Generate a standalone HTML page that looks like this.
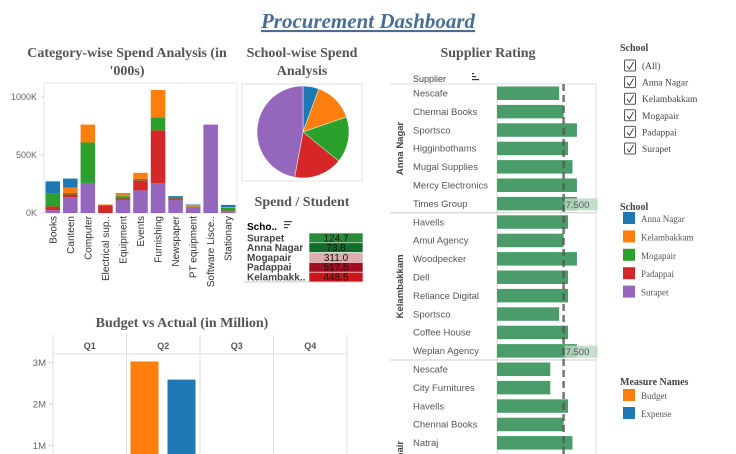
<!DOCTYPE html>
<html><head><meta charset="utf-8">
<style>
html,body{margin:0;padding:0;background:#fff;width:736px;height:454px;overflow:hidden}
svg{display:block}
.ser{font-family:"Liberation Serif",serif}
.san{font-family:"Liberation Sans",sans-serif}
</style></head>
<body>
<svg id="dash" width="736" height="454" viewBox="0 0 736 454" xmlns="http://www.w3.org/2000/svg">
<defs><clipPath id="frame"><rect x="0" y="0" width="736" height="454"/></clipPath></defs>
<text x="368" y="28" text-anchor="middle" class="ser" font-size="21" font-style="italic" font-weight="bold" fill="#4a6d91" text-decoration="underline">Procurement Dashboard</text>

<g id="cat">
<text x="127" y="57" text-anchor="middle" class="ser" font-size="14" font-weight="bold" fill="#555">Category-wise Spend Analysis (in</text>
<text x="127" y="75" text-anchor="middle" class="ser" font-size="14" font-weight="bold" fill="#555">'000s)</text>
<rect x="44" y="83" width="193" height="130" fill="none" stroke="#e6e6e6"/>
</g>

<g id="pie">
<text x="302" y="57" text-anchor="middle" class="ser" font-size="14" font-weight="bold" fill="#555">School-wise Spend</text>
<text x="302" y="75" text-anchor="middle" class="ser" font-size="14" font-weight="bold" fill="#555">Analysis</text>
<rect x="242" y="84" width="120" height="97" fill="none" stroke="#e0e0e0"/>
</g>

<g id="sps">
<text x="302" y="206" text-anchor="middle" class="ser" font-size="14" font-weight="bold" fill="#555">Spend / Student</text>
<text x="247" y="230" class="san" font-size="10" font-weight="bold" fill="#000">Scho..</text>
<g><rect x="284" y="221" width="8" height="1.2" fill="#444"/><rect x="284" y="224" width="6" height="1.2" fill="#444"/><rect x="284" y="227" width="4" height="1.2" fill="#444"/></g>
</g>

<g id="sup" clip-path="url(#frame)">
<text x="488" y="57" text-anchor="middle" class="ser" font-size="14" font-weight="bold" fill="#555">Supplier Rating</text>
<text x="413" y="82" class="san" font-size="9" fill="#444">Supplier</text>
<g><rect x="472" y="73" width="2" height="1.2" fill="#333"/><rect x="472" y="76" width="4" height="1.2" fill="#333"/><rect x="472" y="79" width="7" height="1.2" fill="#333"/></g>
<line x1="390" y1="84" x2="596" y2="84" stroke="#ddd"/>
<line x1="497" y1="84" x2="497" y2="454" stroke="#ddd"/>
<line x1="596" y1="84" x2="596" y2="454" stroke="#ddd"/>
</g>

<g id="bud">
<text x="182" y="327" text-anchor="middle" class="ser" font-size="14" font-weight="bold" fill="#555">Budget vs Actual (in Million)</text>
<line x1="53" y1="354" x2="347" y2="354" stroke="#ddd"/>
</g>

<g>
<text x="620" y="51" class="ser" font-size="10" font-weight="bold" fill="#444">School</text>
</g>
<g id="leg1">
<text x="620" y="210" class="ser" font-size="10" font-weight="bold" fill="#444">School</text>
</g>
<g id="leg2">
<text x="620" y="385" class="ser" font-size="10" font-weight="bold" fill="#444">Measure Names</text>
</g>
</svg>
<script>
// ---- category chart data (K) ----
const categories = ["Books","Canteen","Computer","Electrical sup..","Equipment","Events","Furnishing","Newspaper","PT equipment","Software Lisce..","Stationary"];
const schools = ["Surapet","Padappai","Mogapair","Kelambakkam","Anna Nagar"];
const surapetSpend =     [25,137,259,0,113,195,259,113,44,762,15];
const padappaiSpend =    [32,23,0,65,12,87,453,12,6,0,6];
const mogapairSpend =    [108,12,349,3,20,12,113,6,5,0,23];
const kelambakkamSpend = [0,47,154,5,18,52,235,0,12,0,6];
const annaNagarSpend =   [108,78,0,0,7,0,0,15,6,0,20];
const catTicks = [0,500,1000];
const catTickLabels = ["0K","500K","1000K"];
// ---- pie ----
const pieSchools = ["Anna Nagar","Kelambakkam","Mogapair","Padappai","Surapet"];
const pieValues = [5.6,14.1,16.2,17.0,47.1];
// ---- spend per student ----
const spsSchools = ["Surapet","Anna Nagar","Mogapair","Padappai","Kelambakk.."];
const spsValues = [124.7,73.8,311.0,517.5,448.5];
// ---- supplier rating ----
const supGroups = ["Anna Nagar","Kelambakkam","Mogapair"];
const supAnna = ["Nescafe","Chennai Books","Sportsco","Higginbothams","Mugal Supplies","Mercy Electronics","Times Group"];
const supAnnaVals = [7,7.5,9,8,8.5,9,9];
const supKel = ["Havells","Amul Agency","Woodpecker","Dell","Reliance Digital","Sportsco","Coffee House","Weplan Agency"];
const supKelVals = [8,7.5,9,8,8,7,8,9];
const supMog = ["Nescafe","City Furnitures","Havells","Chennai Books","Natraj"];
const supMogVals = [6,6,8,7.5,8.5];
const refLine = 7.5;
// ---- budget ----
const quarters = ["Q1","Q2","Q3","Q4"];
const budgetVals = [0,3.03,0,0];
const expenseVals = [0,2.59,0,0];
const budTicks = [1,2,3];
const budTickLabels = ["1M","2M","3M"];

const NS="http://www.w3.org/2000/svg";
const colors={"Anna Nagar":"#1f77b4","Kelambakkam":"#ff7f0e","Mogapair":"#2ca02c","Padappai":"#d62728","Surapet":"#9467bd"};
function mk(tag,attrs,parent){const e=document.createElementNS(NS,tag);for(const k in attrs)e.setAttribute(k,attrs[k]);parent.appendChild(e);return e;}

// category chart
const cat=document.getElementById('cat');
const cy=v=>213-v*116/1000;
const band=193/categories.length;
catTicks.forEach((t,i)=>{
  const tx=mk('text',{x:37,y:cy(t)+3,'text-anchor':'end','font-size':9,fill:'#666','font-family':'Liberation Sans'},cat);
  tx.textContent=catTickLabels[i];
  
  
  const tk=mk('line',{x1:41,x2:44,y1:cy(t),y2:cy(t),stroke:'#ccc'},cat);
  
  
});
const series=[surapetSpend,padappaiSpend,mogapairSpend,kelambakkamSpend,annaNagarSpend];
categories.forEach((c,i)=>{
  const x=44+i*band+1.5;let acc=0;
  series.forEach((s,j)=>{
    const v=s[i];if(v<=0)return;
    const r=mk('rect',{x:x,y:cy(acc+v),width:band-3,height:cy(acc)-cy(acc+v),fill:colors[schools[j]]},cat);
    
    
    acc+=v;
  });
  const lx=44+i*band+band/2+3.5;
  const t=mk('text',{x:lx,y:216,transform:`rotate(-90 ${lx} 216)`,'text-anchor':'end','font-size':10,fill:'#333','font-family':'Liberation Sans'},cat);
  t.textContent=c;
  
  
});

// pie
const pie=document.getElementById('pie');
const tot=pieValues.reduce((a,b)=>a+b,0);let ang=0;const pcx=303,pcy=132,pr=46;
pieValues.forEach((v,i)=>{
  const a0=ang,a1=ang+v/tot*2*Math.PI;ang=a1;
  const x0=pcx+pr*Math.sin(a0),y0=pcy-pr*Math.cos(a0),x1=pcx+pr*Math.sin(a1),y1=pcy-pr*Math.cos(a1);
  const p=mk('path',{d:`M${pcx},${pcy}L${x0},${y0}A${pr},${pr} 0 ${a1-a0>Math.PI?1:0} 1 ${x1},${y1}Z`,fill:colors[pieSchools[i]],stroke:'#fff','stroke-width':0.5},pie);
  
  
});

// spend per student
const sps=document.getElementById('sps');
function heat(v){if(v<150)return v<100?'#146b2c':'#2a8a3e';if(v<350)return '#dcaeae';return v>500?'#a30f22':'#c8171e';}
spsSchools.forEach((s,i)=>{
  const y=233+i*9.8;
  const t=mk('text',{x:247,y:y+8.3,'font-size':10,'font-weight':'bold',fill:'#444','font-family':'Liberation Sans'},sps);
  t.textContent=s;
  
  
  const r=mk('rect',{x:309,y:y,width:54,height:9.8,fill:heat(spsValues[i]),stroke:'#fff','stroke-width':0.6},sps);
  
  
  const vt=mk('text',{x:336,y:y+8.3,'text-anchor':'middle','font-size':10,fill:'#111','font-family':'Liberation Sans'},sps);
  vt.textContent=spsValues[i].toFixed(1);
  
  
});
const sl=mk('line',{x1:243,x2:363,y1:282,y2:282,stroke:'#ccc'},sps);



// supplier rating
const sup=document.getElementById('sup');
const RH=18.4;const sx=v=>497+v*66.6/7.5;
let rowY=84;
const groups=[[supAnna,supAnnaVals],[supKel,supKelVals],[supMog,supMogVals]];
groups.forEach((g,gi)=>{
  const y0=rowY;
  g[0].forEach((name,i)=>{
    const y=rowY;
    const t=mk('text',{x:413,y:y+12.5,'font-size':9.5,fill:'#555','font-family':'Liberation Sans'},sup);
    t.textContent=name;
    
    
    const r=mk('rect',{x:497,y:y+2.5,width:sx(g[1][i])-497,height:13.5,fill:'#4a9c6a'},sup);
    
    
    if(i===g[0].length-1&&gi<2){
      const b=mk('rect',{x:sx(refLine)+1,y:y+4,width:33,height:12,fill:'#b8d8c2',opacity:0.85},sup);
      
      
      const lt=mk('text',{x:sx(refLine)+2,y:y+13.5,'font-size':9.5,fill:'#555','font-family':'Liberation Sans'},sup);
      lt.textContent=refLine.toFixed(3);
      
      
    }
    rowY+=RH;
  });
  const cyG=gi<2?(y0+rowY)/2:462;
  const gl=mk('text',{x:403,y:cyG,transform:`rotate(-90 403 ${cyG})`,'text-anchor':'middle','font-size':9.5,'font-weight':'bold',fill:'#444','font-family':'Liberation Sans'},sup);
  gl.textContent=supGroups[gi];
  
  
  if(gi<2){
    const ln=mk('line',{x1:390,x2:596,y1:rowY,y2:rowY,stroke:'#ccc'},sup);
    
    
  }
});
const ref=mk('line',{x1:sx(refLine),x2:sx(refLine),y1:84,y2:454,stroke:'#555','stroke-width':2.5,'stroke-dasharray':'7,4',opacity:0.8},sup);



// budget chart
const bud=document.getElementById('bud');
const by=v=>362.7+(3-v)*41.3;
const qw=73.5;
budTicks.forEach((t,i)=>{
  const tx=mk('text',{x:46,y:by(t)+3.5,'text-anchor':'end','font-size':9.5,fill:'#666','font-family':'Liberation Sans'},bud);
  tx.textContent=budTickLabels[i];
  
  
  const tk=mk('line',{x1:49,x2:53,y1:by(t),y2:by(t),stroke:'#ccc'},bud);
  
  
});
for(let i=0;i<=quarters.length;i++){
  const l=mk('line',{x1:53+i*qw,x2:53+i*qw,y1:335,y2:454,stroke:'#ddd'},bud);
  
  
}
quarters.forEach((q,i)=>{
  const t=mk('text',{x:53+i*qw+qw/2,y:349,'text-anchor':'middle','font-size':9,'font-weight':'bold',fill:'#555','font-family':'Liberation Sans'},bud);
  t.textContent=q;
  
  
  if(budgetVals[i]>0){
    const r=mk('rect',{x:53+i*qw+4,y:by(budgetVals[i]),width:28,height:454-by(budgetVals[i]),fill:'#ff7f0e'},bud);
    
    
  }
  if(expenseVals[i]>0){
    const r=mk('rect',{x:53+i*qw+41,y:by(expenseVals[i]),width:28,height:454-by(expenseVals[i]),fill:'#1f77b4'},bud);
    
    
  }
});

// filter + legends
const svg=document.getElementById('dash');
const filterItems=["(All)","Anna Nagar","Kelambakkam","Mogapair","Padappai","Surapet"];
filterItems.forEach((f,i)=>{
  const y=60+i*16.6;
  const g=mk('g',{},svg);
  
  
  mk('rect',{x:624.5,y:y,width:11,height:11,fill:'#fff',stroke:'#555','stroke-width':1,rx:1},g);
  mk('path',{d:`M627,${y+6} L629.5,${y+9} L633.5,${y+2}`,fill:'none',stroke:'#333','stroke-width':0.9},g);
  const t=mk('text',{x:642,y:y+9,'font-size':9.5,fill:'#444','font-family':'Liberation Serif'},g);
  t.textContent=f;
});
const legSchools=["Anna Nagar","Kelambakkam","Mogapair","Padappai","Surapet"];
const leg1=document.getElementById('leg1');
legSchools.forEach((s,i)=>{
  const y=212+i*18.4;
  const r=mk('rect',{x:623,y:y,width:12,height:12,fill:colors[s]},leg1);
  
  
  const t=mk('text',{x:641,y:y+10,'font-size':9,fill:'#555','font-family':'Liberation Serif'},leg1);
  t.textContent=s;
  
  
});
const measures=["Budget","Expense"];const mcol=["#ff7f0e","#1f77b4"];
const leg2=document.getElementById('leg2');
measures.forEach((m,i)=>{
  const y=389+i*18;
  const r=mk('rect',{x:623,y:y,width:12,height:12,fill:mcol[i]},leg2);
  
  
  const t=mk('text',{x:641,y:y+10,'font-size':9,fill:'#555','font-family':'Liberation Serif'},leg2);
  t.textContent=m;
  
  
});
</script>
</body></html>
